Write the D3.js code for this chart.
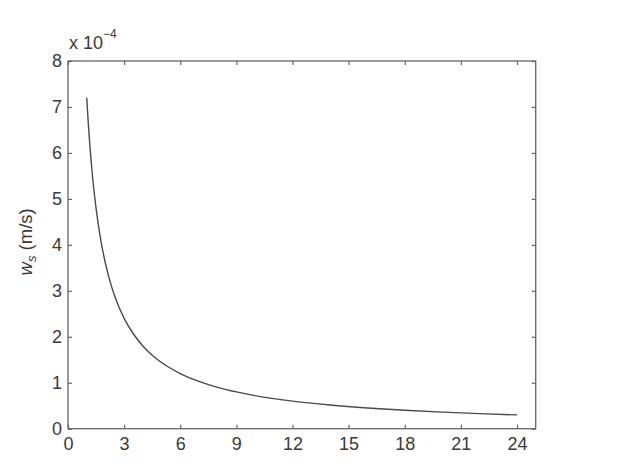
<!DOCTYPE html>
<html><head><meta charset="utf-8">
<script src="https://cdn.jsdelivr.net/npm/d3@7"></script>
<style>
html,body{margin:0;padding:0;background:#fff;}
text{font-family:"Liberation Sans",Arial,Helvetica,sans-serif;fill:#3a3a3a;}
</style></head><body>
<svg id="chart" width="626" height="463"></svg>
<script>
// data (w_s in units of 1e-4 m/s)
const xValues = [1, 1.1, 1.25, 1.4, 1.5, 1.75, 2, 2.25, 2.5, 3, 3.5, 4, 4.5, 5, 6, 7, 8, 9, 10, 11, 12, 14, 16, 18, 20, 22, 24];
const wsValues = [7.2, 6.55, 5.76, 5.14, 4.8, 4.11, 3.6, 3.2, 2.88, 2.4, 2.06, 1.8, 1.6, 1.44, 1.2, 1.03, 0.9, 0.8, 0.72, 0.655, 0.6, 0.515, 0.45, 0.4, 0.36, 0.327, 0.3];
const xTicks = [0, 3, 6, 9, 12, 15, 18, 21, 24];
const yTicks = [0, 1, 2, 3, 4, 5, 6, 7, 8];

const margin = {left: 68, top: 61, right: 90.3, bottom: 34.3};
const W = 626, H = 463;
const svg = d3.select("#chart");
const x = d3.scaleLinear().domain([0, 25]).range([margin.left, W - margin.right]);
const y = d3.scaleLinear().domain([0, 8]).range([H - margin.bottom, margin.top]);
const axisColor = "#666";

// box
svg.append("rect")
  .attr("x", x(0)).attr("y", y(8))
  .attr("width", x(25) - x(0)).attr("height", y(0) - y(8))
  .attr("fill", "none").attr("stroke", axisColor).attr("stroke-width", 1.3);

function styleAxis(g){
  g.select(".domain").remove();
  g.selectAll(".tick line").attr("stroke", axisColor).attr("stroke-width", 1.2);
  g.selectAll(".tick text").attr("font-size", 18).attr("fill", "#3a3a3a");
}

// bottom axis (inward ticks)
svg.append("g").attr("transform", `translate(0,${y(0)})`)
  .call(d3.axisBottom(x).tickValues(xTicks).tickSizeInner(-4).tickSizeOuter(0).tickPadding(8.5))
  .call(styleAxis);
// top axis ticks
svg.append("g").attr("transform", `translate(0,${y(8)})`)
  .call(d3.axisTop(x).tickValues(xTicks).tickSizeInner(-4).tickSizeOuter(0).tickFormat(""))
  .call(styleAxis);
// left axis
svg.append("g").attr("transform", `translate(${x(0)},0)`)
  .call(d3.axisLeft(y).tickValues(yTicks).tickSizeInner(-4).tickSizeOuter(0).tickPadding(6))
  .call(styleAxis);
// right axis ticks
svg.append("g").attr("transform", `translate(${x(25)},0)`)
  .call(d3.axisRight(y).tickValues(yTicks).tickSizeInner(-4).tickSizeOuter(0).tickFormat(""))
  .call(styleAxis);

// exponent label
const ex = svg.append("text").attr("x", 69).attr("y", 49).attr("font-size", 18);
ex.append("tspan").text("x 10");
ex.append("tspan").attr("dy", -11).attr("font-size", 12).text("\u22124");

// y label
const yl = svg.append("text")
  .attr("transform", `translate(32,${(y(0) + y(8)) / 2 - 3}) rotate(-90)`)
  .attr("text-anchor", "middle").attr("font-size", 18.5);
yl.append("tspan").attr("font-style", "italic").text("w");
yl.append("tspan").attr("font-style", "italic").attr("font-size", 13).attr("dy", 4).text("s");
yl.append("tspan").attr("dy", -4).text(" (m/s)");

// curve
const data = xValues.map((d, i) => ({x: d, y: wsValues[i]}));
svg.append("path").datum(data)
  .attr("fill", "none").attr("stroke", "#4a4a4a").attr("stroke-width", 1.4)
  .attr("d", d3.line().x(d => x(d.x)).y(d => y(d.y)).curve(d3.curveMonotoneX));
</script>
</body></html>
